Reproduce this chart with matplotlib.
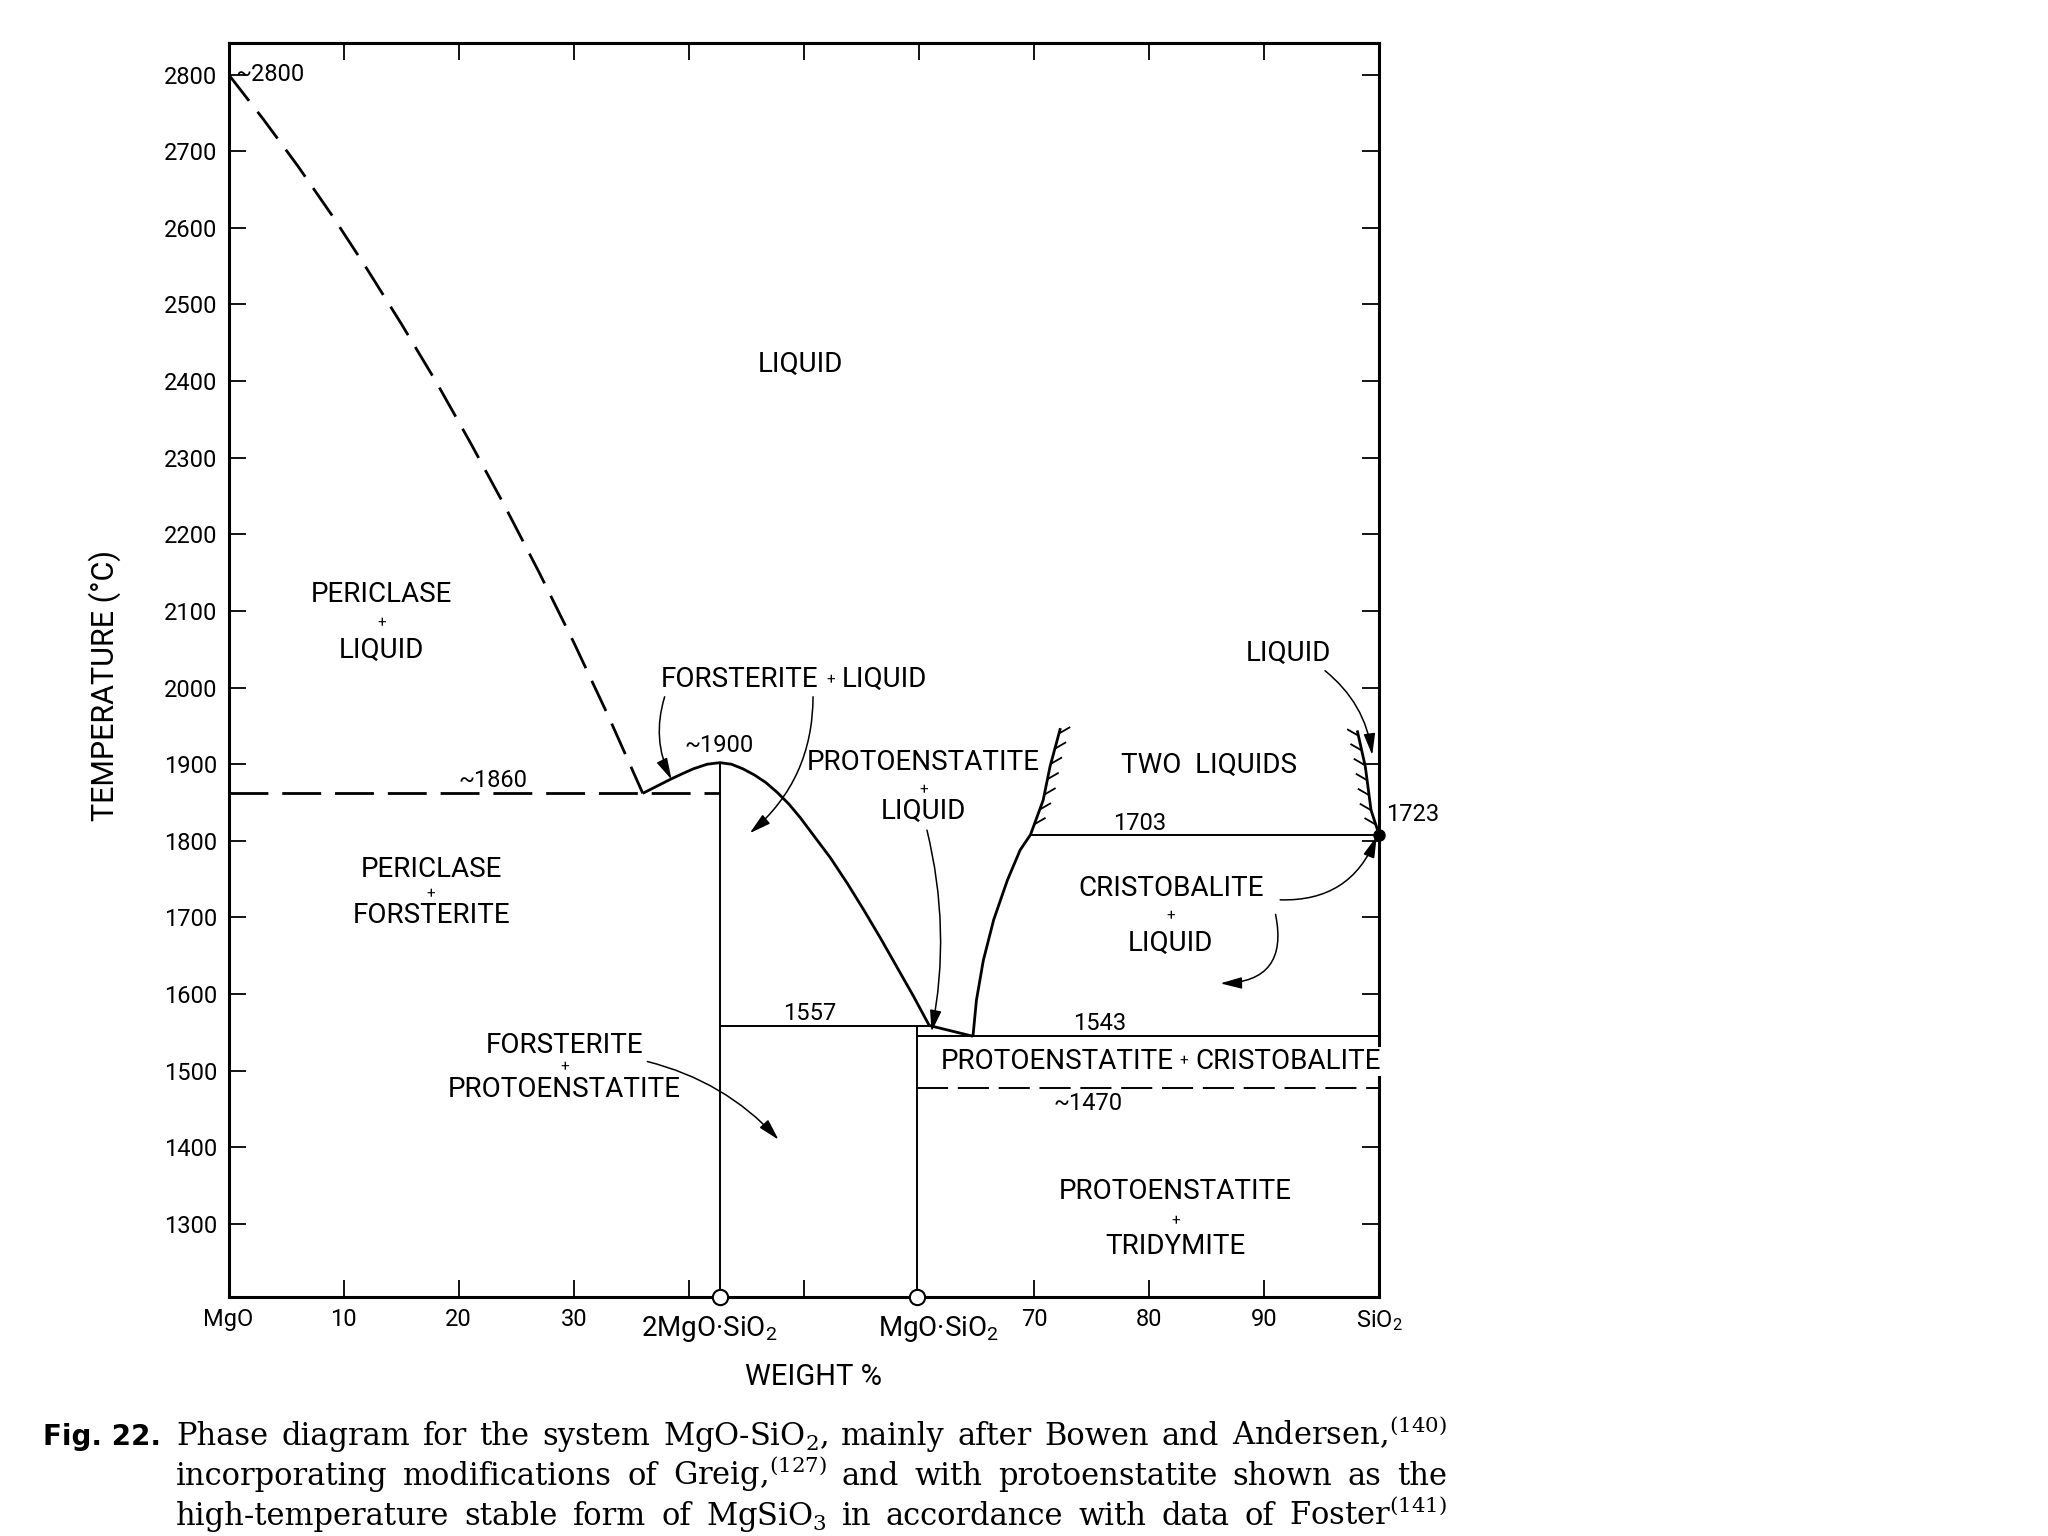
import matplotlib
matplotlib.use("Agg")
import matplotlib.pyplot as plt
import numpy as np

# ---------------- data ----------------
# periclase liquidus (dashed)
per_liq_x = [0, 3, 6, 9, 12, 15, 18, 21, 24, 27, 30, 33, 36]
per_liq_y = [2800, 2742, 2681, 2616, 2547, 2475, 2400, 2320, 2237, 2150, 2059, 1963, 1862]
# forsterite liquidus
fo_liq_x = [36.0, 38.5, 39.5, 40.4, 41.6, 42.7, 43.7, 44.7, 45.7, 46.7, 47.7, 48.7, 49.7,
            50.8, 52.3, 53.8, 55.2, 56.7, 58.1, 59.5, 60.9]
fo_liq_y = [1862, 1881, 1888, 1894, 1900, 1902, 1900, 1894, 1886, 1876, 1863, 1848, 1830,
            1808, 1778, 1744, 1710, 1672, 1635, 1598, 1559]
# protoenstatite liquidus
pen_liq_x = [60.9, 64.7]
pen_liq_y = [1559, 1545]
# cristobalite liquidus
cr_liq_x = [64.7, 65.0, 65.6, 66.5, 67.7, 68.8, 69.7]
cr_liq_y = [1545, 1592, 1644, 1697, 1749, 1788, 1808]
# two-liquid boundaries
gap_left_x = [69.7, 70.8, 71.4, 72.3]
gap_left_y = [1808, 1853, 1897, 1947]
gap_right_x = [98.1, 98.8, 99.3, 100.0]
gap_right_y = [1944, 1897, 1840, 1808]

x_fo = 42.7      # 2MgO.SiO2
x_en = 59.85     # MgO.SiO2
t_per_fo = 1862  # ~1860
t_fo_max = 1902  # ~1900
t_perit = 1559   # 1557
t_eut = 1545     # 1543
t_inv = 1477     # ~1470
t_2liq = 1808    # 1703 (as drawn)

y_ticks = list(range(1300, 2801, 100))
x_ticks = [0, 10, 20, 30, 40, 50, 70, 80, 90, 100]
x_tick_labels = ["MgO", "10", "20", "30", "", "", "70", "80", "90", "SiO$\\mathregular{_2}$"]
top_ticks = [10, 20, 30, 40, 50, 60, 70, 80, 90]

# ---------------- styling ----------------
plt.rcParams["font.family"] = ["Roboto", "DejaVu Sans"]
plt.rcParams["font.weight"] = "normal"
plt.rcParams["mathtext.fontset"] = "dejavuserif"
plt.rcParams["lines.solid_capstyle"] = "butt"

fig = plt.figure(figsize=(20.48, 15.36), dpi=100)
ax = fig.add_axes([0.11162, 0.15573, 0.56177, 0.81621])
ax.set_xlim(0, 100)
ax.set_ylim(1205, 2841)

for s in ax.spines.values():
    s.set_linewidth(2.2)

ax.set_yticks(y_ticks)
ax.set_yticklabels([str(v) for v in y_ticks], fontsize=17)
ax.set_xticks(x_ticks)
ax.set_xticklabels(x_tick_labels, fontsize=17)
ax.tick_params(direction="in", length=12, width=1.3, top=False, right=True, pad=8)
sec = ax.secondary_xaxis("top")
sec.set_xticks(top_ticks)
sec.set_xticklabels([])
sec.tick_params(direction="in", length=12, width=1.3)
sec.spines["top"].set_linewidth(2.2)

K = "black"
LW_MAIN = 2.0
LW_THIN = 1.4

ax.plot(per_liq_x, per_liq_y, color=K, lw=LW_MAIN, dashes=(12, 5))
ax.plot(fo_liq_x, fo_liq_y, color=K, lw=LW_MAIN)
ax.plot(pen_liq_x, pen_liq_y, color=K, lw=LW_MAIN)
ax.plot(cr_liq_x, cr_liq_y, color=K, lw=LW_MAIN)
ax.plot(gap_left_x, gap_left_y, color=K, lw=LW_MAIN)
ax.plot(gap_right_x, gap_right_y, color=K, lw=LW_MAIN, clip_on=False)

# horizontal tie lines
ax.plot([0, x_fo], [t_per_fo, t_per_fo], color=K, lw=LW_MAIN, dashes=(14, 5))
ax.plot([x_fo, pen_liq_x[0]], [t_perit, t_perit], color=K, lw=LW_THIN)
ax.plot([x_en, 100], [t_eut, t_eut], color=K, lw=LW_THIN)
ax.plot([x_en, 100], [t_inv, t_inv], color=K, lw=LW_THIN, dashes=(16, 5))
ax.plot([cr_liq_x[-1], 100], [t_2liq, t_2liq], color=K, lw=LW_THIN)

# vertical compound lines
ax.plot([x_fo, x_fo], [1205, t_fo_max], color=K, lw=LW_THIN)
ax.plot([x_en, x_en], [1205, t_perit], color=K, lw=LW_THIN)

# compound markers on the axis
ax.plot([x_fo, x_en], [1205, 1205], ls="none", marker="o", ms=11, mfc="white",
        mec=K, mew=1.5, clip_on=False, zorder=6)
# SiO2 melting point blob
ax.plot([100], [t_2liq], marker="o", ms=8, color=K, clip_on=False, zorder=6)


def hatch(xs, ys, angle_deg, length_px, n, f0=0.1, f1=0.95):
    pts = ax.transData.transform(np.column_stack([xs, ys]))
    seg = np.hypot(*np.diff(pts, axis=0).T)
    cum = np.concatenate([[0], np.cumsum(seg)])
    s = np.linspace(cum[-1] * f0, cum[-1] * f1, n)
    px = np.interp(s, cum, pts[:, 0])
    py = np.interp(s, cum, pts[:, 1])
    a = np.deg2rad(angle_deg)
    inv = ax.transData.inverted()
    for x0, y0 in zip(px, py):
        p = inv.transform([[x0, y0], [x0 + length_px * np.cos(a), y0 + length_px * np.sin(a)]])
        ax.plot(p[:, 0], p[:, 1], color=K, lw=1.3, clip_on=False)


hatch(gap_left_x, gap_left_y, 30, 13, 7)
hatch(gap_right_x, gap_right_y, 150, 13, 7, f0=0.05, f1=0.9)


def arrow(start, end, rad):
    ax.annotate("", xy=end, xytext=start,
                arrowprops=dict(arrowstyle="-|>,head_length=1.3,head_width=0.35",
                                mutation_scale=10, connectionstyle=f"arc3,rad={rad}",
                                lw=1.1, color=K, shrinkA=0, shrinkB=0))


arrow((37.9, 1988), (38.5, 1880), 0.2)
arrow((50.8, 1988), (45.3, 1810), -0.23)
arrow((60.7, 1814), (61.1, 1551), -0.11)
arrow((36.4, 1512), (47.8, 1410), -0.15)
arrow((95.3, 2022), (99.4, 1912), -0.2)
arrow((91.4, 1723), (99.8, 1806), 0.35)
arrow((91.0, 1704), (86.2, 1614), -0.6)

SZ = 20
NS = 17


def T(x, y, s, size=SZ, ha="center", va="center", **kw):
    return ax.text(x, y, s, fontsize=size, ha=ha, va=va, **kw)


def stack(x, y_top, y_plus, y_bot, top, bot):
    T(x, y_top, top)
    T(x, y_plus, "+", size=11)
    T(x, y_bot, bot)


T(49.7, 2422, "LIQUID")
stack(13.3, 2121, 2084, 2049, "PERICLASE", "LIQUID")
stack(17.6, 1762, 1730, 1702, "PERICLASE", "FORSTERITE")
stack(29.2, 1533, 1505, 1475, "FORSTERITE", "PROTOENSTATITE")
stack(60.4, 1902, 1866, 1838, "PROTOENSTATITE", "LIQUID")
stack(81.9, 1738, 1702, 1666, "CRISTOBALITE", "LIQUID")
stack(82.3, 1342, 1303, 1270, "PROTOENSTATITE", "TRIDYMITE")

T(51.3, 2010, "FORSTERITE", ha="right")
T(52.3, 2010, "+", size=11)
T(53.3, 2010, "LIQUID", ha="left")

T(82.15, 1512, "PROTOENSTATITE", ha="right")
T(83.0, 1512, "+", size=11)
T(84.0, 1512, "CRISTOBALITE", ha="left", zorder=5, clip_on=False,
  bbox=dict(boxstyle="square,pad=0.05", fc="white", ec="none"))

T(85.25, 1899, "TWO  LIQUIDS")
T(92.1, 2045, "LIQUID")

T(0.6, 2800, "~2800", size=NS, ha="left")
T(23.0, 1879, "~1860", size=NS)
T(42.6, 1924, "~1900", size=NS)
T(50.55, 1575, "1557", size=NS)
T(75.7, 1562, "1543", size=NS)
T(79.2, 1823, "1703", size=NS)
T(100.6, 1834, "1723", size=NS, ha="left", clip_on=False)
T(74.7, 1457, "~1470", size=NS)

xt = ax.get_xaxis_transform()
ax.text(41.8, -0.026, "2MgO·SiO$\\mathregular{_2}$", transform=xt, fontsize=20,
        ha="center", va="center")
ax.text(61.7, -0.026, "MgO·SiO$\\mathregular{_2}$", transform=xt, fontsize=20,
        ha="center", va="center")

fig.text(0.397, 0.1037, "WEIGHT %", fontsize=21, ha="center", va="center")
fig.text(0.0513, 0.5534, "TEMPERATURE (°C)", fontsize=22, ha="center", va="center",
         rotation=90)

# ---------------- caption ----------------
cap_lines = [
    "Phase diagram for the system MgO-SiO$_2$, mainly after Bowen and Andersen,$^{(140)}$",
    "incorporating modifications of Greig,$^{(127)}$ and with protoenstatite shown as the",
    "high-temperature stable form of MgSiO$_3$ in accordance with data of Foster$^{(141)}$",
]
cap_y = [0.0592, 0.0330, 0.0072]
fig.text(0.021, cap_y[0], "Fig. 22.", fontsize=20, fontweight="bold",
         family="DejaVu Sans", va="baseline", ha="left")

W = fig.get_figwidth() * fig.dpi
renderer = fig.canvas.get_renderer()
x0p, x1p = 0.086 * W, 0.7066 * W
for line, y in zip(cap_lines, cap_y):
    words = line.split(" ")
    texts = [fig.text(0, y, w, fontsize=22, family="DejaVu Serif", fontweight="normal",
                      va="baseline", ha="left") for w in words]
    widths = [t.get_window_extent(renderer).width for t in texts]
    gap = (x1p - x0p - sum(widths)) / (len(words) - 1)
    xp = x0p
    for t, w in zip(texts, widths):
        t.set_x(xp / W)
        xp += w + gap

fig.savefig("out.png", dpi=100)
